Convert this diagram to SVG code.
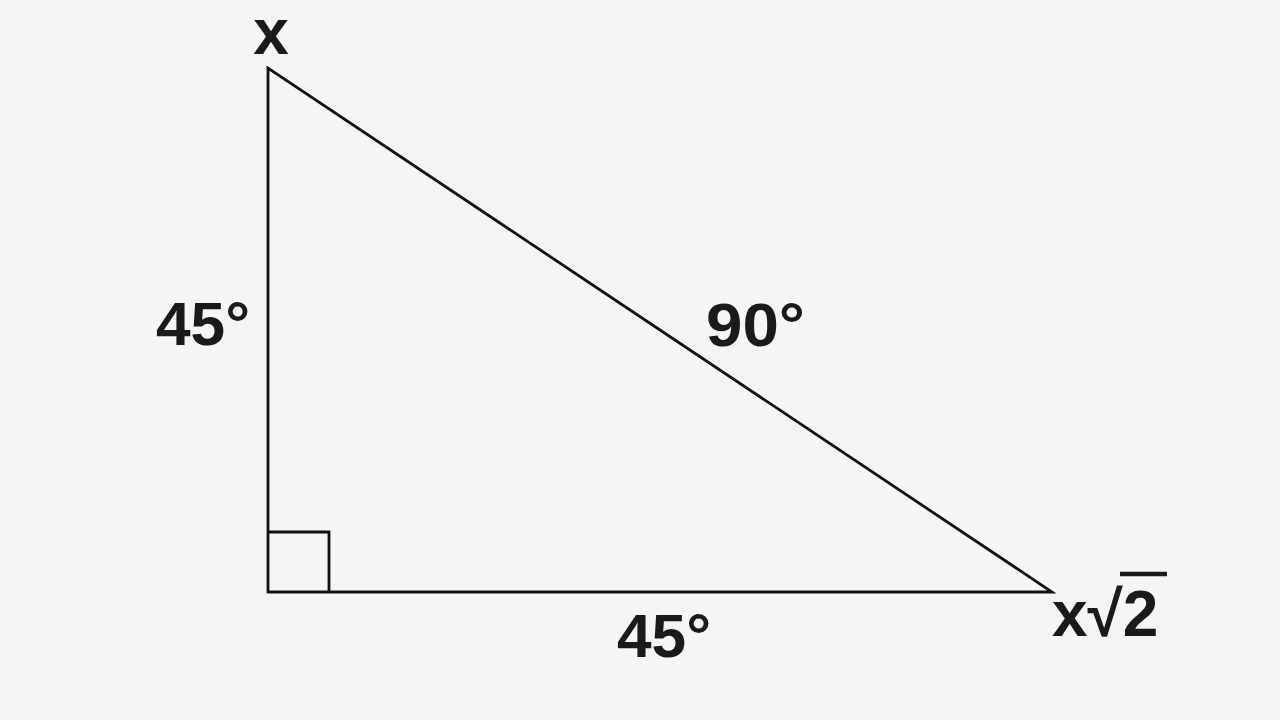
<svg xmlns="http://www.w3.org/2000/svg" width="1280" height="720" viewBox="0 0 1280 720">
<style>
.lbl{font-family:"Liberation Sans","Arial",sans-serif;font-weight:bold;fill:#1a1a1a;font-size:62px}
.var{font-family:"Liberation Sans","DejaVu Sans",sans-serif;font-weight:bold;fill:#1a1a1a;font-size:64px}
.edge{fill:none;stroke:#111;stroke-width:2.8;stroke-linejoin:miter}
</style>
<rect width="1280" height="720" fill="#f5f5f5"/>
<g id="connectors">
<path class="edge" d="M268,68 L268,592 L1052,592 Z"/>
<path class="edge" d="M268,532 L329,532 L329,592"/>
</g>
<g id="vertex-top"><text class="var" x="271" y="54" text-anchor="middle">x</text></g>
<g id="angle-left"><text class="lbl" x="156" y="345" textLength="94" lengthAdjust="spacingAndGlyphs">45°</text></g>
<g id="angle-hyp"><text class="lbl" x="706" y="346" textLength="99" lengthAdjust="spacingAndGlyphs">90°</text></g>
<g id="angle-bottom"><text class="lbl" x="617" y="657" textLength="94" lengthAdjust="spacingAndGlyphs">45°</text></g>
<g id="vertex-right">
<text class="var" x="1052" y="636">x√2</text>
<line x1="1120" y1="574" x2="1167" y2="574" stroke="#1a1a1a" stroke-width="4.5"/>
</g>
</svg>
